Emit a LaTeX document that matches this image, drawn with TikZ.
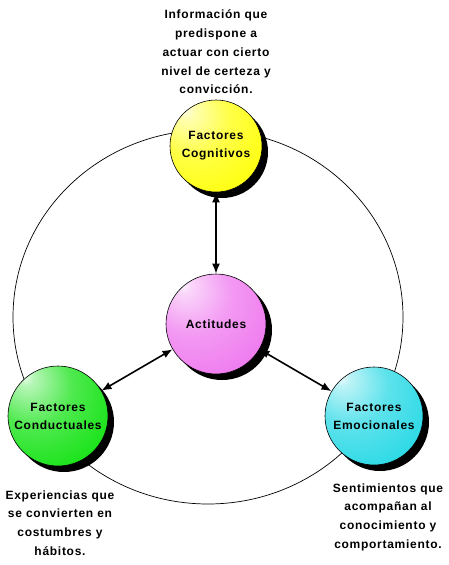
\documentclass[tikz,border=0pt]{standalone}
\usepackage{fontspec}
\setmainfont{Liberation Sans}[LetterSpace=6]
\usetikzlibrary{arrows.meta}
\definecolor{cYel}{RGB}{255,255,0}
\definecolor{cPink}{RGB}{238,115,238}
\definecolor{cGreen}{RGB}{10,225,10}
\definecolor{cCyan}{RGB}{30,215,228}
\definecolor{cShadow}{RGB}{0,0,0}
\newcommand{\mkball}[2]{\pgfdeclareradialshading{#1}{\pgfpoint{-17bp}{20bp}}{color(0bp)=(#2!8!white); color(4bp)=(#2!30!white); color(20bp)=(#2!72!white); color(40bp)=(#2!95!white); color(62bp)=(#2); color(80bp)=(#2!82!black)}}
\mkball{ballY}{cYel}
\mkball{ballP}{cPink}
\mkball{ballG}{cGreen}
\mkball{ballC}{cCyan}
\begin{document}
\begin{tikzpicture}[x=1pt,y=-1pt,
  ball/.style={circle, inner sep=0pt, draw=black, line width=0.6pt, align=center,
    font=\fontsize{12}{18}\bfseries\selectfont},
  shadowball/.style={fill=cShadow},
  desc/.style={align=center, inner sep=0pt, font=\fontsize{12}{18.7}\bfseries\selectfont},
  link/.style={{Latex[length=10pt,width=8pt]}-{Latex[length=10pt,width=8pt]}, line width=1.6pt, black}]
\useasboundingbox (0,0) rectangle (448,565);
\draw[line width=0.7pt] (208,317) ellipse [x radius=195, y radius=187];
\fill[shadowball] (222,152) circle (46);
\fill[shadowball] (222,330) circle (50);
\fill[shadowball] (64,422) circle (50);
\fill[shadowball] (380,422) circle (49);
\node[ball, minimum size=92pt, shading=ballY] (cog) at (216,146) {Factores\\Cognitivos};
\node[ball, minimum size=100pt, shading=ballP] (act) at (216,324) {Actitudes};
\node[ball, minimum size=100pt, shading=ballG] (cond) at (58,416) {Factores\\Conductuales};
\node[ball, minimum size=98pt, shading=ballC] (emo) at (374,416) {Factores\\Emocionales};
\draw[link] (cog) -- (act);
\draw[link] (act) -- (cond);
\draw[link] (act) -- (emo);
\node[desc] (tcog) at (216,52) {Información que\\predispone a\\actuar con cierto\\nivel de certeza y\\convicción.};
\node[desc] (tcond) at (60,523) {Experiencias que\\se convierten en\\costumbres y\\hábitos.};
\node[desc] (temo) at (388,517) {Sentimientos que\\acompañan al\\conocimiento y\\comportamiento.};
\end{tikzpicture}
\end{document}
